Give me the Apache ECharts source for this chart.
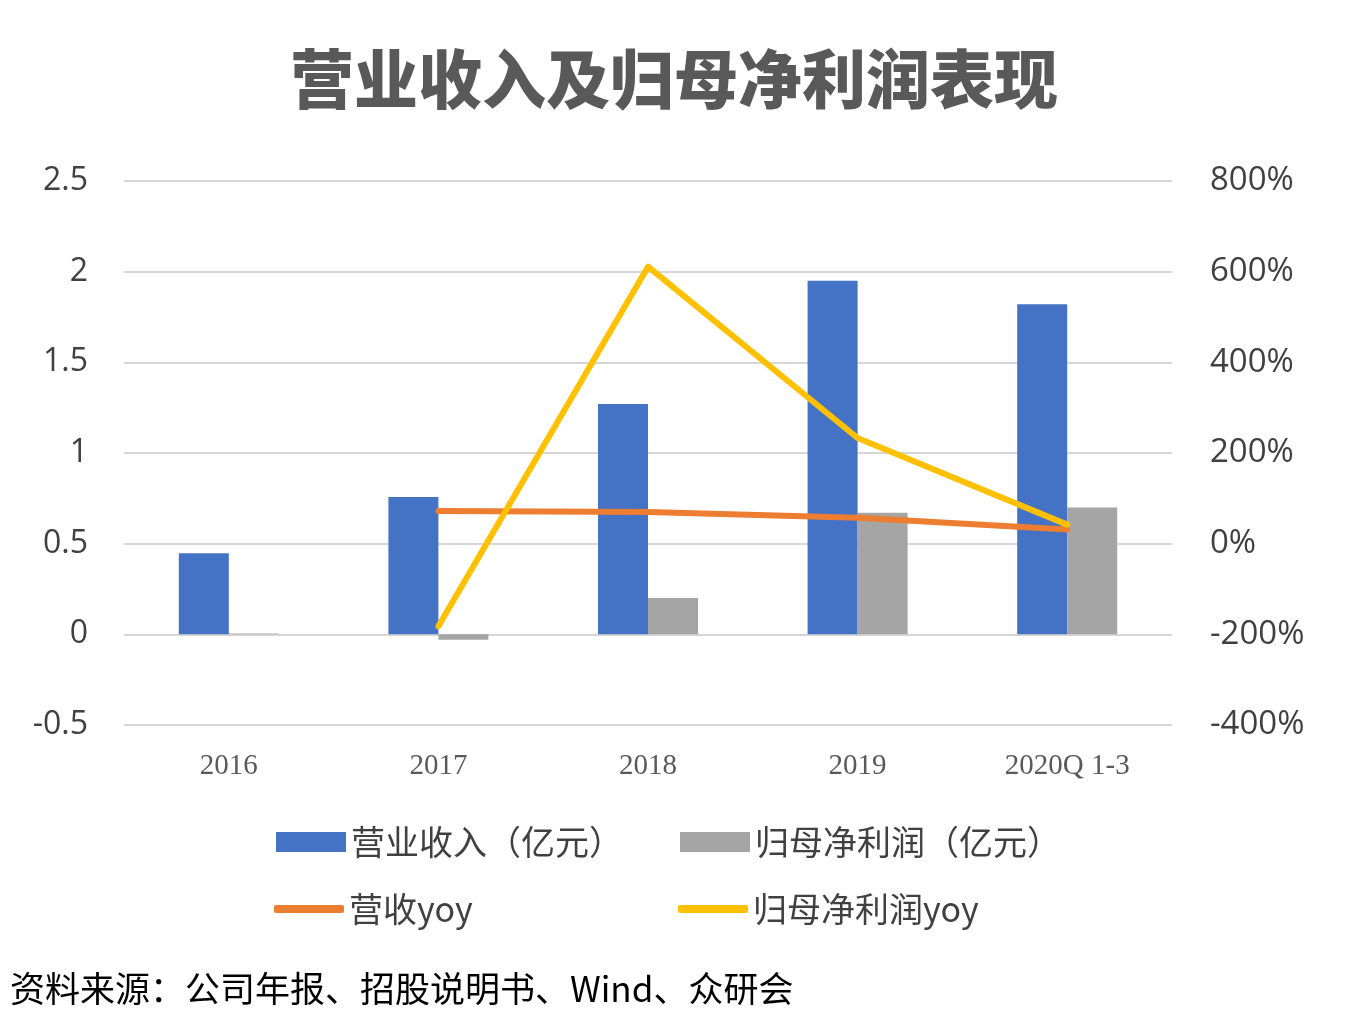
<!DOCTYPE html>
<html><head><meta charset="utf-8">
<script src="https://cdn.jsdelivr.net/npm/echarts@6/dist/echarts.min.js"></script>
<style>html,body{margin:0;padding:0;background:#fff}#c{width:1348px;height:1026px}</style>
</head><body><div id="c"></div>
<script>
var categories = ['2016','2017','2018','2019','2020Q 1-3'];
var revenue = [0.447, 0.757, 1.27, 1.95, 1.82];
var netProfit = [0.004, -0.03, 0.20, 0.67, 0.70];
var revenueYoy = [null, 72, 70, 57, 31];
var netProfitYoy = [null, -182, 611, 233, 42];
var leftTicks = [-0.5, 0, 0.5, 1, 1.5, 2, 2.5];
var rightTicks = [-400, -200, 0, 200, 400, 600, 800];
var names = ['营业收入（亿元）','归母净利润（亿元）','营收yoy','归母净利润yoy'];

var chart = echarts.init(document.getElementById('c'));
var legendText = {fontSize: 34, color: '#404040', fontFamily: 'Noto Sans CJK SC'};
function lg(name, left, top, icon, h) {
  return {data: [name], left: left, top: top, icon: icon, itemWidth: 70, itemHeight: h,
    itemGap: 0, textStyle: legendText, selectedMode: false, padding: 0};
}
chart.setOption({
  backgroundColor: '#ffffff',
  animation: false,
  title: {text: '营业收入及归母净利润表现', left: 'center', top: 42,
    textStyle: {fontSize: 64, fontWeight: 900, color: '#595959', fontFamily: 'Noto Sans CJK SC'}},
  graphic: [{type: 'text', left: 10, top: 971,
    style: {text: '资料来源：公司年报、招股说明书、Wind、众研会', fontSize: 35, fill: '#000', fontFamily: 'Noto Sans CJK SC'}}],
  legend: [
    lg(names[0], 276, 825, 'rect', 20),
    lg(names[1], 680, 825, 'rect', 20),
    lg(names[2], 274, 892, 'roundRect', 8),
    lg(names[3], 678, 892, 'roundRect', 8)
  ],
  grid: {left: 124, right: 176, top: 181, bottom: 301},
  xAxis: {type: 'category', data: categories,
    axisLine: {show: false}, axisTick: {show: false},
    axisLabel: {fontSize: 29, color: '#595959', fontFamily: 'Liberation Serif', margin: 27}},
  yAxis: [
    {type: 'value', min: -0.5, max: 2.5, interval: 0.5,
      axisLine: {show: false}, axisTick: {show: false},
      splitLine: {lineStyle: {color: '#c8c8c8', width: 1.5}},
      axisLabel: {fontSize: 32, color: '#404040', fontFamily: 'Open Sans', margin: 36,
        formatter: function (v) { return leftTicks.indexOf(v) >= 0 ? String(v) : ''; }}},
    {type: 'value', min: -400, max: 800, interval: 200,
      axisLine: {show: false}, axisTick: {show: false}, splitLine: {show: false},
      axisLabel: {fontSize: 33, color: '#404040', fontFamily: 'Open Sans', margin: 38,
        formatter: function (v) { return rightTicks.indexOf(v) >= 0 ? v + '%' : ''; }}}
  ],
  series: [
    {name: names[0], type: 'bar', data: revenue, barWidth: 50, barGap: '0%',
      itemStyle: {color: '#4472C4'}},
    {name: names[1], type: 'bar', data: netProfit, barWidth: 50, barGap: '0%',
      itemStyle: {color: '#A5A5A5'}},
    {name: names[2], type: 'line', yAxisIndex: 1, data: revenueYoy, showSymbol: false,
      lineStyle: {color: '#ED7D31', width: 6, cap: 'round'}, itemStyle: {color: '#ED7D31'}},
    {name: names[3], type: 'line', yAxisIndex: 1, data: netProfitYoy, showSymbol: false,
      lineStyle: {color: '#FFC000', width: 6, cap: 'round', join: 'round'}, itemStyle: {color: '#FFC000'}}
  ]
});
</script></body></html>
